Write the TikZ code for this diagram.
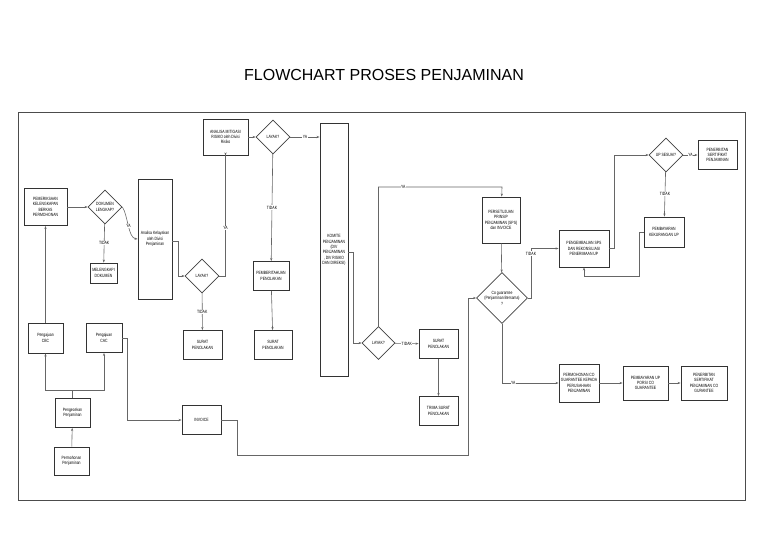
\documentclass[tikz,border=0pt]{standalone}
\usepackage{fontspec}
\setmainfont{Liberation Sans}[FakeStretch=0.75]
\newfontfamily\titlefont{Liberation Sans}
\usetikzlibrary{shapes.geometric,arrows.meta}
\begin{document}
\begin{tikzpicture}[x=1pt,y=-1pt,
  box/.style={draw=black!80,line width=0.9pt,fill=white,align=center,inner sep=0pt,font=\fontsize{4.6}{5.4}\selectfont},
  dia/.style={draw=black!75,line width=0.7pt,diamond,aspect=1,inner sep=0pt,minimum size=#1,align=center,font=\fontsize{4.6}{5.4}\selectfont},
  ln/.style={draw=black!60,line width=0.6pt},
  ar/.style={ln,-{Stealth[length=3pt,width=2.2pt]}},
  lb/.style={fill=white,inner sep=0.5pt,font=\fontsize{4.6}{5.4}\selectfont}]
\useasboundingbox (0,0) rectangle (768,543);
\node[font=\titlefont\fontsize{16}{18}\selectfont] (title) at (384,75) {FLOWCHART PROSES PENJAMINAN};
\draw[black!70,line width=1pt] (18,112) rectangle (745,500);
% nodes
\node[box,minimum width=43,minimum height=37] (pem) at (45.5,207) {PEMERIKSAAN\\KELENGKAPAN\\BERKAS\\PERMOHONAN};
\node[dia=34] (dok) at (105,207) {DOKUMEN\\LENGKAP?};
\node[box,minimum width=27,minimum height=20] (mel) at (103.5,273) {MELENGKAPI\\DOKUMEN};
\node[box,minimum width=34,minimum height=120] (ana) at (155,239) {Analisa Kelayakan\\oleh Divisi\\Penjaminan};
\node[dia=34] (lay1) at (202,276) {LAYAK?};
\node[box,minimum width=45,minimum height=36] (mit) at (225.5,137) {ANALISA MITIGASI\\RISIKO oleh Divisi\\Risiko};
\node[dia=34] (lay2) at (273,137) {LAYAK?};
\node[box,minimum width=36,minimum height=29] (pbt) at (271,276) {PEMBERITAHUAN\\PENOLAKAN};
\node[box,minimum width=39,minimum height=29] (sp1) at (202.5,345) {SURAT\\PENOLAKAN};
\node[box,minimum width=38,minimum height=29] (sp2) at (273,345) {SURAT\\PENOLAKAN};
\node[box,minimum width=35,minimum height=30] (cbc) at (45.5,338) {Pengajuan\\CBC};
\node[box,minimum width=36,minimum height=29] (cac) at (104,338) {Pengajuan\\CAC};
\node[box,minimum width=35,minimum height=29] (pgc) at (72.5,413) {Pengecekan\\Penjaminan};
\node[box,minimum width=35,minimum height=28] (pmh) at (71.5,461) {Permohonan\\Penjaminan};
\node[box,minimum width=39,minimum height=29] (inv) at (201.5,420) {INVOICE};
\node[box,minimum width=28,minimum height=253] (kom) at (334,250) {KOMITE\\PENJAMINAN\\(DIV\\PENJAMINAN\\, DIV RISIKO\\DAN DIREKSI)};
\node[dia=33] (lay3) at (378.5,343) {LAYAK?};
\node[box,minimum width=39,minimum height=29] (sp3) at (438.5,344) {SURAT\\PENOLAKAN};
\node[box,minimum width=39,minimum height=29] (trm) at (438.5,411) {TRIMA SURAT\\PENOLAKAN};
\node[box,minimum width=38,minimum height=46] (sps) at (501,220) {PERSETUJUAN\\PRINSIP\\PENJAMINAN (SPS)\\dan INVOICE};
\node[dia=51] (cog) at (502,298) {Co guarantee\\(Penjaminan Bersama)\\?};
\node[box,minimum width=50,minimum height=37] (kem) at (584,248.5) {PENGEMBALIAN SPS\\DAN REKONSILIASI\\PENERIMAAN UP};
\node[dia=34] (ups) at (666,155) {UP SESUAI?};
\node[box,minimum width=39,minimum height=29] (ser) at (717.5,155) {PENERBITAN\\SERTIFIKAT\\PENJAMINAN};
\node[box,minimum width=40,minimum height=30] (kur) at (664,232) {PEMBAYARAN\\KEKURANGAN UP};
\node[box,minimum width=40,minimum height=38] (pco) at (579,383) {PERMOHONAN CO\\GUARANTEE KEPADA\\PERUSAHAAN\\PENJAMINAN};
\node[box,minimum width=45,minimum height=34] (byr) at (645.5,383) {PEMBAYARAN UP\\PORSI CO\\GUARANTEE};
\node[box,minimum width=46,minimum height=34] (sco) at (704,383) {PENERBITAN\\SERTIFIKAT\\PENJAMINAN CO\\GURANTEE};
\coordinate (j1) at (72.5,390);
% connectors
\draw[ar] (cbc) -- (pem);
\draw[ar] (pem) -- (dok);
\draw[ar] (dok) -- node[lb]{TIDAK} (mel);
\draw[ar] (dok.east) .. controls (128,215) and (128,238) .. node[lb]{YA} (ana.west |- 0,239);
\draw[ar] (ana.east |- 0,241) -| (178,276) -- (lay1);
\draw[ar] (lay1.east) -| node[lb,pos=0.7]{YA} (225.5,155) -- (mit);
\draw[ar] (lay1) -- node[lb]{TIDAK} (sp1);
\draw[ar] (mit) -- (lay2);
\draw[ar] (lay2) -- node[lb]{YA} (kom.west |- lay2);
\draw[ar] (lay2) -- node[lb]{TIDAK} (pbt);
\draw[ar] (pbt) -- (sp2);
\draw[ar] (kom.east |- 0,252) -| (353,343) -- (lay3);
\draw[ar] (lay3.north) |- node[lb,pos=0.6]{YA} (502,187) -- (sps);
\draw[ar] (lay3) -- node[lb]{TIDAK} (sp3);
\draw[ar] (sp3) -- (trm);
\draw[ar] (sps) -- (cog);
\draw[ar] (cog.east) -| node[lb,pos=0.95]{TIDAK} (531,248.5) -- (kem);
\draw[ar] (cog.south) |- node[lb,pos=0.6]{YA} (pco);
\draw[ar] (inv.east) -| (237,455) -| (468,298) -- (cog.west);
\draw[ar] (cac.east) -| (127,420) -- (inv);
\draw[ln] (pgc.north) -- (j1);
\draw[ar] (j1) -| (cbc.south);
\draw[ar] (j1) -| (cac.south);
\draw[ar] (pmh) -- (pgc);
\draw[ar] (kem.east) -| (614,155) -- (ups);
\draw[ar] (ups) -- node[lb]{YA} (ser);
\draw[ar] (ups) -- node[lb]{TIDAK} (kur);
\draw[ar] (kur.west) -| (639,276) -| (kem.south);
\draw[ar] (pco) -- (byr);
\draw[ar] (byr) -- (sco);
\end{tikzpicture}
\end{document}
